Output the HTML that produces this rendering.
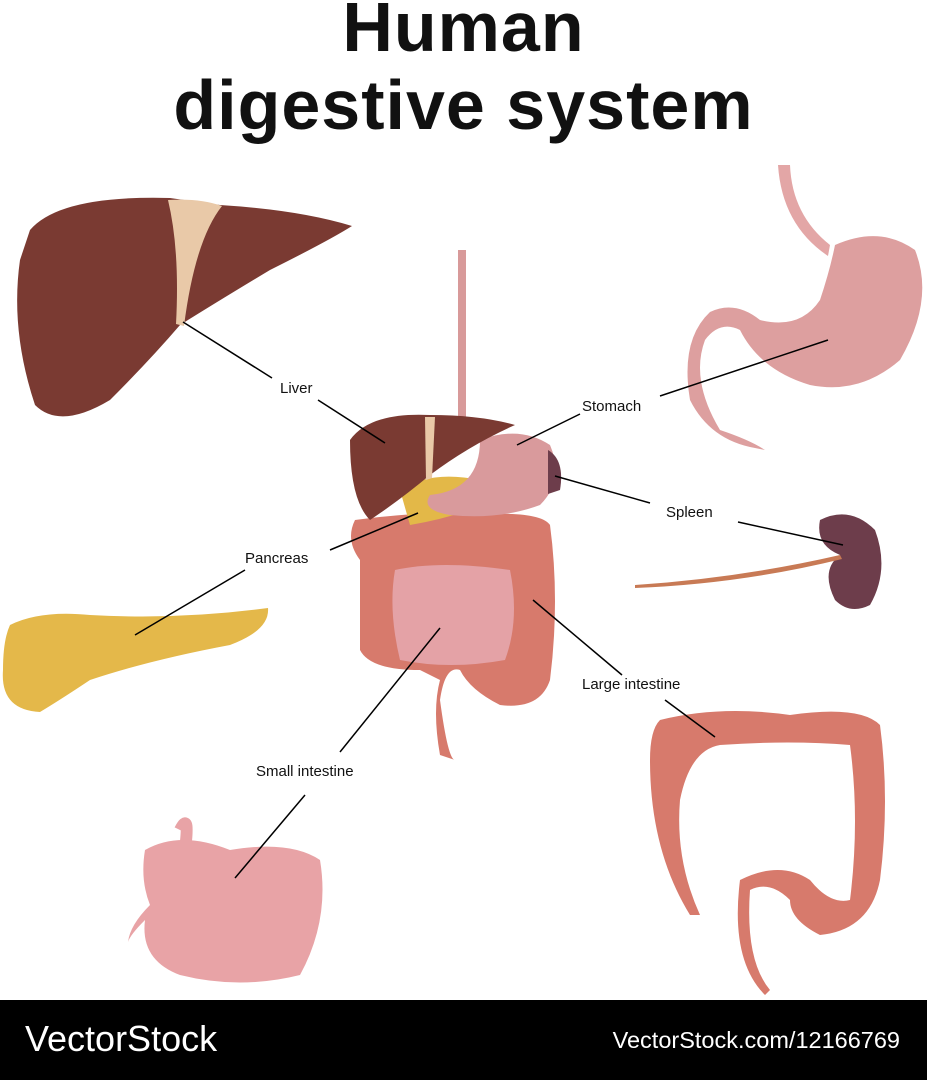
<!DOCTYPE html>
<html><head><meta charset="utf-8"><style>
html,body{margin:0;padding:0;background:#fff;}
body{width:927px;height:1080px;position:relative;overflow:hidden;font-family:"Liberation Sans",sans-serif;}
.t{position:absolute;left:0;width:927px;text-align:center;font-weight:bold;color:#111;font-size:70px;line-height:70px;}
.foot{position:absolute;left:0;top:1000px;width:927px;height:80px;background:#000;color:#fff;}
</style></head><body>
<div class="t" style="top:-8px;letter-spacing:1px">Human</div>
<div class="t" style="top:70px;letter-spacing:1px">digestive system</div>
<svg width="927" height="1000" style="position:absolute;left:0;top:0" font-family="Liberation Sans, sans-serif" font-size="15">
<!-- liver -->
<path d="M30,230 Q60,195 170,198 L220,205 Q300,210 352,226 Q330,240 270,270 Q220,300 180,325 Q150,360 110,400 Q60,430 35,405 Q10,330 20,260 Z" fill="#7a3a32"/>
<path d="M168,200 Q200,198 222,206 Q195,240 184,326 L176,324 Q180,250 168,200Z" fill="#e9c9a8"/>
<!-- stomach top right -->
<path d="M778,165 L790,165 Q792,215 830,245 L828,256 Q782,225 778,165Z" fill="#e3a6a6"/>
<path d="M835,245 Q880,225 915,250 Q935,300 900,360 Q860,395 810,385 Q760,370 740,330 Q720,320 705,340 Q690,380 720,430 Q750,440 765,450 L755,448 Q710,440 690,400 Q680,340 710,312 Q735,300 760,320 Q800,330 820,300 Q830,270 835,245Z" fill="#dd9f9f"/>
<!-- spleen -->
<path d="M820,520 Q850,505 875,530 Q890,570 870,605 Q850,615 835,600 Q820,570 840,555 Q815,545 820,520Z" fill="#6d3d4b"/>
<path d="M635,585 Q740,578 840,555 L842,559 Q740,584 635,588Z" fill="#c87a55"/>
<!-- pancreas -->
<path d="M10,625 Q40,610 90,615 Q180,620 268,608 Q270,630 230,645 Q150,660 90,680 Q60,700 40,712 Q0,710 3,670 Q3,640 10,625Z" fill="#e4b84a"/>
<!-- large intestine bottom right -->
<path d="M660,720 Q720,705 790,715 Q860,705 880,725 Q890,800 880,880 Q870,930 820,935 Q790,920 790,900 Q770,880 750,890 Q745,960 770,990 L765,995 Q730,960 740,880 Q780,860 810,880 Q830,905 850,900 Q860,820 850,745 Q790,740 720,745 Q690,750 680,800 Q675,860 700,915 L690,915 Q650,850 650,760 Q650,730 660,720Z" fill="#d77a6c"/>
<!-- small intestine bottom left -->
<path d="M145,850 Q180,830 230,850 Q290,840 320,860 Q330,920 300,975 Q240,990 180,975 Q140,960 145,920 Q130,935 128,942 Q130,925 150,905 Q140,880 145,850Z" fill="#e8a3a6"/>
<path d="M180,830 Q190,810 185,850" stroke="#e8a3a6" stroke-width="12" fill="none"/>
<!-- center assembly -->
<path d="M458,250 L466,250 L466,420 L458,420Z" fill="#d89a9a"/>
<path d="M360,560 Q345,540 355,520 Q430,510 470,515 Q540,510 550,525 Q560,600 550,680 Q540,710 500,705 Q470,690 460,670 Q445,665 440,700 Q448,760 455,760 L440,755 Q432,710 440,680 L420,670 Q370,670 360,650 Z" fill="#d77a6c"/>
<path d="M395,570 Q440,560 510,570 Q520,620 505,660 Q450,670 400,660 Q388,610 395,570Z" fill="#e4a2a6"/>
<path d="M400,490 Q430,470 480,480 Q495,500 470,510 Q440,520 410,525Z" fill="#e3b848"/>
<path d="M480,440 Q520,425 550,445 Q565,480 540,505 Q500,520 450,515 Q420,510 430,495 Q480,490 480,440Z" fill="#d99a9c"/>
<path d="M548,450 Q565,460 560,490 L548,494Z" fill="#6d3d4b"/>
<path d="M350,440 Q370,412 430,415 Q480,415 515,425 Q470,445 430,475 Q400,500 370,520 Q350,500 350,440Z" fill="#7a3a32"/>
<path d="M425,417 L435,417 L432,478 L426,480Z" fill="#e9c9a8"/>
<!-- lines -->
<g stroke="#000" stroke-width="1.5">
<line x1="183" y1="322" x2="272" y2="378"/><line x1="318" y1="400" x2="385" y2="443"/>
<line x1="517" y1="445" x2="580" y2="414"/><line x1="660" y1="396" x2="828" y2="340"/>
<line x1="555" y1="476" x2="650" y2="503"/><line x1="738" y1="522" x2="843" y2="545"/>
<line x1="135" y1="635" x2="245" y2="570"/><line x1="330" y1="550" x2="418" y2="513"/>
<line x1="533" y1="600" x2="622" y2="675"/><line x1="665" y1="700" x2="715" y2="737"/>
<line x1="440" y1="628" x2="340" y2="752"/><line x1="305" y1="795" x2="235" y2="878"/>
</g>
<g fill="#111">
<text x="280" y="393">Liver</text>
<text x="582" y="411">Stomach</text>
<text x="666" y="517">Spleen</text>
<text x="245" y="563">Pancreas</text>
<text x="582" y="689">Large intestine</text>
<text x="256" y="776">Small intestine</text>
</g>
</svg>
<div class="foot">
<div style="position:absolute;left:25px;top:18px;font-size:36px;letter-spacing:0px">VectorStock</div>
<div style="position:absolute;right:27px;top:27px;font-size:23.5px">VectorStock.com/12166769</div>
</div>
</body></html>
